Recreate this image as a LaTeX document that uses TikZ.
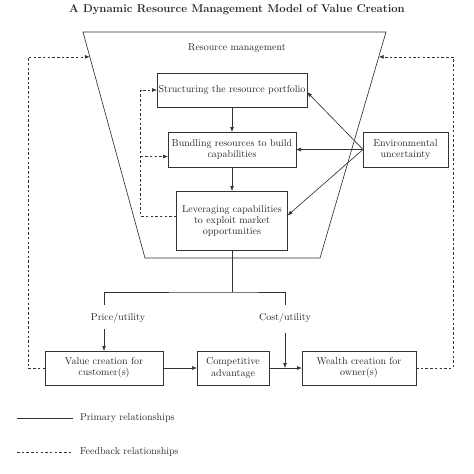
\documentclass[tikz,border=0pt]{standalone}
\usetikzlibrary{arrows.meta,calc}

\begin{document}
\begin{tikzpicture}[
        x = 1pt, y = -1pt,
        line width = .65pt, draw = black!80,
        every node/.style = {
          font = \fontsize{10}{11}\selectfont, text = black!85,
          align = center, inner sep = 0pt, outer sep = 0pt,
        },
        blk/.style = {
          rectangle, draw = black!80, line width = .65pt,
        },
        prim/.style = {draw = black!80},
        fb/.style = {draw = black!80, dash pattern = on 2.5pt off 2.2pt},
        tip/.style = {-{Latex[length=5pt,width=4pt]}},
      ]
      \useasboundingbox (0,0) rectangle (474,474);

      \node[font = \fontsize{11.3}{13}\selectfont\bfseries] (title) at (237,10)
        {A Dynamic Resource Management Model of Value Creation};

      % resource management funnel
      \coordinate (tl) at (83,32);
      \coordinate (tr) at (386,32);
      \coordinate (br) at (320,258);
      \coordinate (bl) at (145,258);
      \draw[prim] (tl) -- (tr) -- (br) -- (bl) -- cycle;
      \node (rm) at (237,48) {Resource management};

      \node[blk, minimum width = 150pt, minimum height = 34pt] (struct) at (232,90)
        {Structuring the resource portfolio};
      \node[blk, minimum width = 128pt, minimum height = 35pt] (bundle) at (232,149.5)
        {Bundling resources to build\\capabilities};
      \node[blk, minimum width = 111pt, minimum height = 59pt] (lever) at (232,220.5)
        {Leveraging capabilities\\to exploit market\\opportunities};
      \node[blk, minimum width = 85pt, minimum height = 35pt] (env) at (405.5,149.5)
        {Environmental\\uncertainty};

      \draw[prim, tip] (struct.south) to (bundle.north);
      \draw[prim, tip] (bundle.south) to (lever.north);

      \draw[prim, tip] (env.west) to ([yshift=-2pt]struct.east);
      \draw[prim, tip] (env.west) to (bundle.east);
      \draw[prim, tip] (env.west) to ([yshift=5pt]lever.east);

      \coordinate (bw) at ([yshift=-7pt]bundle.west);
      \draw[fb, tip] ([yshift=4.5pt]lever.west) to ++(-36,0) coordinate (fbl)
        |- (struct.west);
      \draw[fb, tip] (fbl |- bw) to (bw);

      % value creation
      \node[blk, minimum width = 118pt, minimum height = 34pt] (value) at (104,368)
        {Value creation for\\customer(s)};
      \node[blk, minimum width = 72pt, minimum height = 34pt] (comp) at (233,368)
        {Competitive\\advantage};
      \node[blk, minimum width = 114pt, minimum height = 34pt] (wealth) at (359,368)
        {Wealth creation for\\owner(s)};

      \node (price) at (118,318) {Price/utility};
      \node (cost) at (285,318) {Cost/utility};

      \coordinate (split) at (232,292);
      \draw[prim] (lever.south) to (split);
      \draw[prim] ([yshift=8pt]value.north |- price.north)
        |- (split) -| ([yshift=8pt]cost.north);
      \draw[prim, tip] ([yshift=-6pt]value.north |- price.south) to (value.north);
      \draw[prim, tip] ([yshift=-10pt]cost.south) to (cost.south |- comp.east);

      \draw[prim, tip] (value.east) to (comp.west);
      \draw[prim, tip] (comp.east) to (wealth.west);

      % feedback to the funnel
      \draw[fb, tip] (value.west) to ++(-17,0) |- ($(tl)!0.11!(bl)$);
      \draw[fb, tip] (wealth.east) to ++(37,0) |- ($(tr)!0.11!(br)$);

      % legend
      \draw[prim] (17,418) coordinate (lp) to ++(56,0)
        node[right = 7pt] (lprim) {Primary relationships};
      \draw[fb] (17,452) coordinate (lf) to ++(56,0)
        node[right = 7pt] (lfb) {Feedback relationships};
    \end{tikzpicture}
\end{document}
